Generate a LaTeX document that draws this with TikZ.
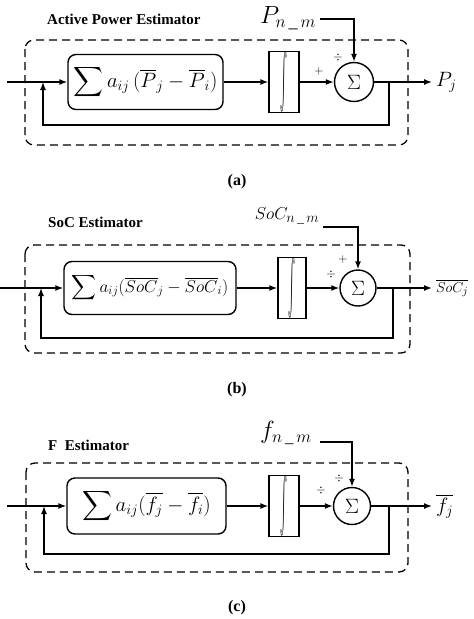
\documentclass[tikz,border=0pt]{standalone}
\usepackage{amsmath}
\usepackage{fontspec}
\setmainfont{Liberation Serif}
\usepackage{graphicx}
\usetikzlibrary{arrows.meta}
\tikzset{
  wire/.style={line width=1.4pt},
  arr/.style={wire,-{Latex[length=8pt,width=6pt]}},
  blockbox/.style={draw,line width=1.4pt,rounded corners=8pt,inner sep=0pt},
  intbox/.style={draw,line width=1.4pt,inner sep=0pt},
  sumnode/.style={draw,circle,line width=1.4pt,inner sep=0pt},
  groupbox/.style={draw,line width=1.3pt,dash pattern=on 8pt off 5pt,rounded corners=9pt},
  title/.style={anchor=west,inner sep=0pt,font=\fontsize{15}{17}\selectfont\bfseries},
  caption/.style={inner sep=0pt,font=\fontsize{16}{18}\selectfont\bfseries},
  sgn/.style={inner sep=0pt,font=\fontsize{12}{12}\selectfont},
  sigma/.style={font=\fontsize{22}{22}\selectfont},
}
\newcommand{\intglyph}{\resizebox{7pt}{44pt}{$\int$}}
\newcommand{\usc}{\,\text{\itshape\textunderscore}\,}
\begin{document}
\begin{tikzpicture}[x=1pt,y=-1pt]
\useasboundingbox (0,0) rectangle (474,619);
% ---------------- (a) ----------------
\node[title] (ta) at (47,19) {Active Power Estimator};
\draw[groupbox] (25,40) rectangle (408,145);
\node[blockbox,minimum width=155pt,minimum height=55pt] (ba) at (145.5,82)
  {\fontsize{20}{22}\selectfont$\displaystyle\sum a_{ij}\,(\overline{P}_j-\overline{P}_i)$};
\node[intbox,minimum width=30pt,minimum height=55pt] (ia) at (284,82) {\intglyph};
\node[sumnode,sigma,minimum size=39pt] (sa) at (354,82) {$\Sigma$};
\coordinate (ina) at (7,82);
\coordinate (ja) at (43,82);
\coordinate (fa1) at (389,82);
\coordinate (fa2) at (389,125);
\coordinate (fa3) at (43,125);
\coordinate (oa) at (432,82);
\node[anchor=west,inner sep=0pt] (la) at (436,82) {\fontsize{20}{22}\selectfont$P_j$};
\node[inner sep=0pt] (pa) at (288,18) {\fontsize{26}{28}\selectfont$P_{n\usc m}$};
\coordinate (pa1) at (320,19);
\coordinate (pa2) at (354,19);
\draw[arr] (ina) -- (ba.west);
\draw[arr] (ba.east) -- (ia.west);
\draw[arr] (ia.east) -- (sa.west);
\draw[arr] (sa.east) -- (oa);
\draw[arr] (fa1) -- (fa2) -- (fa3) -- (ja);
\draw[arr] (pa1) -- (pa2) -- (sa.north);
\node[sgn] (pla1) at (338,57) {$\div$};
\node[sgn] (pla2) at (319,71) {$+$};
\node[caption] (ca) at (237,182) {(a)};
% ---------------- (b) ----------------
\node[title] (tb) at (48,222) {SoC Estimator};
\draw[groupbox] (25,245) rectangle (410,353);
\node[blockbox,minimum width=172pt,minimum height=53pt] (bb) at (150,288)
  {\fontsize{17}{19}\selectfont$\displaystyle\sum a_{ij}(\overline{SoC}_j-\overline{SoC}_i)$};
\node[intbox,minimum width=28pt,minimum height=55pt] (ib) at (292,288) {\intglyph};
\node[sumnode,sigma,minimum size=36pt] (sb) at (358,288) {$\Sigma$};
\coordinate (inb) at (0,288);
\coordinate (jb) at (41,288);
\coordinate (fb1) at (393,288);
\coordinate (fb2) at (393,338);
\coordinate (fb3) at (41,338);
\coordinate (ob) at (432,288);
\node[anchor=west,inner sep=0pt] (lb) at (436,288) {\fontsize{15}{16}\selectfont$\overline{SoC_j}$};
\node[inner sep=0pt] (pb) at (287,216) {\fontsize{19}{20}\selectfont$SoC_{n\usc m}$};
\coordinate (pb1) at (323,227);
\coordinate (pb2) at (358,227);
\draw[arr] (inb) -- (bb.west);
\draw[arr] (bb.east) -- (ib.west);
\draw[arr] (ib.east) -- (sb.west);
\draw[arr] (sb.east) -- (ob);
\draw[arr] (fb1) -- (fb2) -- (fb3) -- (jb);
\draw[arr] (pb1) -- (pb2) -- (sb.north);
\node[sgn] (plb1) at (343,259) {$+$};
\node[sgn] (plb2) at (331,274) {$\div$};
\node[caption] (cb) at (237,390) {(b)};
% ---------------- (c) ----------------
\node[title] (tc) at (48,445) {F\ \ Estimator};
\draw[groupbox] (26,463) rectangle (408,572);
\node[blockbox,minimum width=159pt,minimum height=56pt] (bc) at (146.5,506)
  {\fontsize{22}{24}\selectfont$\displaystyle\sum a_{ij}(\overline{f_j}-\overline{f_i})$};
\node[intbox,minimum width=30pt,minimum height=57pt] (ic) at (284,506) {\intglyph};
\node[sumnode,sigma,minimum size=37pt] (sc) at (352,506) {$\Sigma$};
\coordinate (inc) at (7,506);
\coordinate (jc) at (44,506);
\coordinate (fc1) at (389,506);
\coordinate (fc2) at (389,554);
\coordinate (fc3) at (44,554);
\coordinate (oc) at (432,506);
\node[anchor=west,inner sep=0pt] (lc) at (436,506) {\fontsize{20}{22}\selectfont$\overline{f_j}$};
\node[inner sep=0pt] (pc) at (286,433) {\fontsize{24}{26}\selectfont$f_{n\usc m}$};
\coordinate (pc1) at (320,442);
\coordinate (pc2) at (352,442);
\draw[arr] (inc) -- (bc.west);
\draw[arr] (bc.east) -- (ic.west);
\draw[arr] (ic.east) -- (sc.west);
\draw[arr] (sc.east) -- (oc);
\draw[arr] (fc1) -- (fc2) -- (fc3) -- (jc);
\draw[arr] (pc1) -- (pc2) -- (sc.north);
\node[sgn] (plc1) at (339,478) {$\div$};
\node[sgn] (plc2) at (321,490) {$\div$};
\node[caption] (cc) at (237,608) {(c)};
\end{tikzpicture}
\end{document}
